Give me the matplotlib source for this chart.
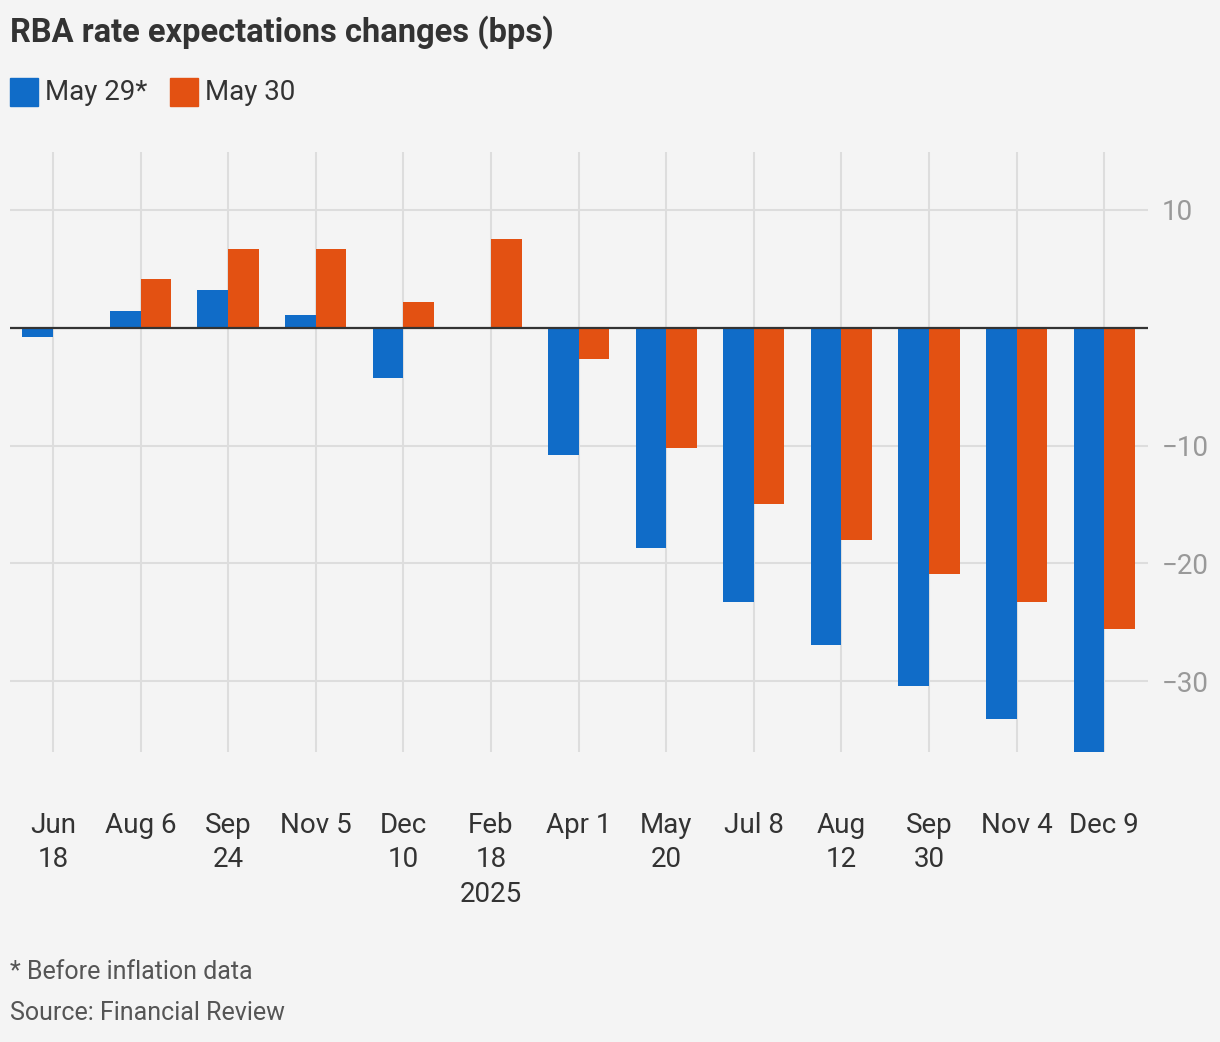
import matplotlib
matplotlib.use("Agg")
import matplotlib.pyplot as plt
from matplotlib.patches import Rectangle
import numpy as np

plt.rcParams['font.family'] = ['Roboto', 'DejaVu Sans']

categories = ["Jun\n18", "Aug 6", "Sep\n24", "Nov 5", "Dec\n10", "Feb\n18\n2025",
              "Apr 1", "May\n20", "Jul 8", "Aug\n12", "Sep\n30", "Nov 4", "Dec 9"]
series_names = ["May 29*", "May 30"]
may29 = [-0.8, 1.45, 3.2, 1.05, -4.3, 0.0, -10.8, -18.7, -23.3, -26.9, -30.4, -33.2, -36.0]
may30 = [0.0, 4.1, 6.7, 6.65, 2.2, 7.5, -2.7, -10.2, -15.0, -18.0, -20.9, -23.3, -25.6]
yticks = [10, -10, -20, -30]

BLUE = "#106CC8"
ORANGE = "#E35112"
BG = "#F4F4F4"
GRID = "#DDDDDD"

W, H = 1220, 1042
fig = plt.figure(figsize=(W / 100, H / 100), dpi=100, facecolor=BG)
ax = fig.add_axes([10 / W, 1 - 752 / H, (1148 - 10) / W, (752 - 152) / H])
ax.set_facecolor(BG)

x = np.arange(len(categories))
w = 0.35
ax.bar(x - w / 2, may29, width=w, color=BLUE, zorder=3, linewidth=0)
ax.bar(x + w / 2, may30, width=w, color=ORANGE, zorder=3, linewidth=0)

ax.set_xlim(-0.49, 12.5)
ax.set_ylim(-36.0, 14.9)

for xi in x:
    ax.axvline(xi, color=GRID, lw=1.5, zorder=1)
for yt in yticks:
    ax.axhline(yt, color=GRID, lw=1.5, zorder=1)
ax.axhline(0, color="#333333", lw=1.6, zorder=4)

for s in ax.spines.values():
    s.set_visible(False)

ax.set_xticks(x)
ax.set_xticklabels(categories, fontsize=20, color="#333333", linespacing=1.36,
                   multialignment="center", va="top")
ax.tick_params(axis="x", length=0, pad=43)

ax.yaxis.tick_right()
ax.set_yticks(yticks)
ax.set_yticklabels([f"{v}".replace("-", "\u2212") for v in yticks],
                   fontsize=20, color="#999999")
ax.tick_params(axis="y", length=0, pad=10)

# Title
fig.text(10 / W, 1 - 32 / H, "RBA rate expectations changes (bps)", fontsize=23.5,
         fontweight="bold", color="#333333", va="center", ha="left")

# Legend
leg_x = [10, 170]
colors = [BLUE, ORANGE]
for lx, c, name in zip(leg_x, colors, series_names):
    fig.patches.append(Rectangle((lx / W, 1 - 106 / H), 28 / W, 28 / H,
                                 transform=fig.transFigure, color=c, figure=fig))
    fig.text((lx + 35) / W, 1 - 92 / H, name, fontsize=20, color="#333333",
             va="center", ha="left")

# Footnotes
fig.text(10 / W, 1 - 972 / H, "* Before inflation data", fontsize=18, color="#555555",
         va="center", ha="left")
fig.text(10 / W, 1 - 1013 / H, "Source: Financial Review", fontsize=18, color="#555555",
         va="center", ha="left")

fig.savefig("out.png", dpi=100, facecolor=BG)
